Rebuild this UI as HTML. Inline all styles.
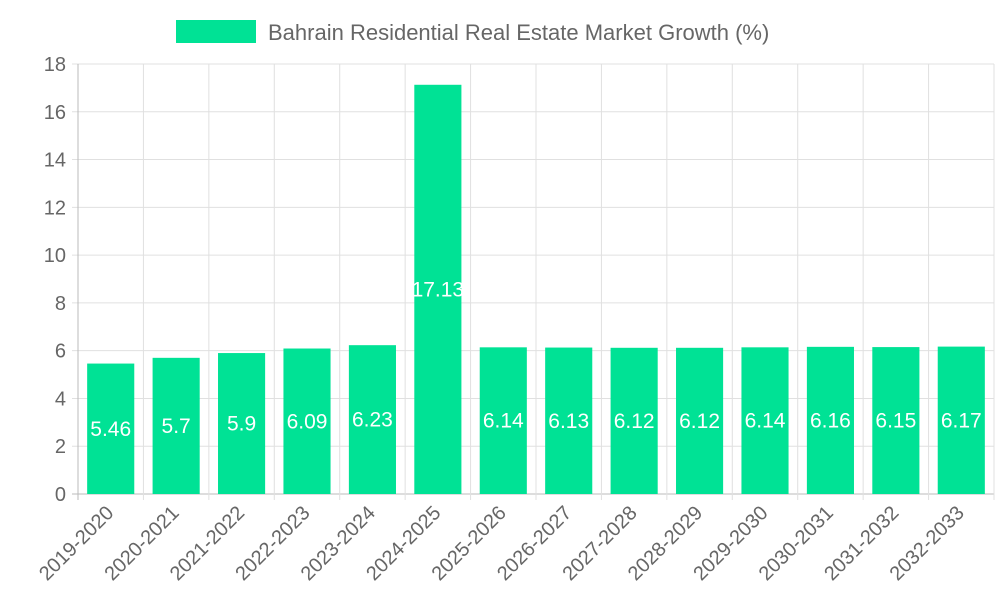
<!DOCTYPE html>
<html><head><meta charset="utf-8"><style>
body{margin:0;background:#fff;width:1000px;height:600px;overflow:hidden}
text{font-family:"Liberation Sans",sans-serif}
</style></head><body>
<svg id="chart" width="1000" height="600" xmlns="http://www.w3.org/2000/svg">
<g>
<rect x="176" y="20" width="80" height="23" fill="#00e295"/>
<text x="268" y="40" font-size="22" fill="#666">Bahrain Residential Real Estate Market Growth (%)</text>
</g>
<g id="grid"></g>
<g id="bars"></g>
<g id="axes"></g>
</svg>
<script>
const categories=["2019-2020","2020-2021","2021-2022","2022-2023","2023-2024","2024-2025","2025-2026","2026-2027","2027-2028","2028-2029","2029-2030","2030-2031","2031-2032","2032-2033"];
const values=[5.46,5.7,5.9,6.09,6.23,17.13,6.14,6.13,6.12,6.12,6.14,6.16,6.15,6.17];
const yTicks=[0,2,4,6,8,10,12,14,16,18];
const X0=78,X1=994,Y0=494,Y1=64,YMAX=18;
const step=(X1-X0)/categories.length;
const y=v=>Y0-(v/YMAX)*(Y0-Y1);
const xc=i=>X0+step*(i+0.5);
const NS="http://www.w3.org/2000/svg";
function mk(tag,attrs,parent){const e=document.createElementNS(NS,tag);for(const k in attrs)e.setAttribute(k,attrs[k]);parent.appendChild(e);return e;}
const grid=document.getElementById('grid'),bars=document.getElementById('bars'),axes=document.getElementById('axes');
yTicks.forEach(t=>{
 const l=mk('line',{x1:X0-6,x2:X1,y1:y(t),y2:y(t),stroke:t===0?'#bbb':'#e0e0e0','stroke-width':1},grid);
 
 
 const tx=mk('text',{x:X0-12,y:y(t)+7,'text-anchor':'end','font-size':20,fill:'#666'},axes);
 tx.textContent=t;
 
 
});
for(let i=0;i<=categories.length;i++){
 const gx=X0+step*i;
 const l=mk('line',{x1:gx,x2:gx,y1:Y1,y2:Y0+6,stroke:i===0?'#bbb':'#e0e0e0','stroke-width':1},grid);
 
 
}
const bw=step*0.72;
values.forEach((v,i)=>{
 const r=mk('rect',{x:xc(i)-bw/2,y:y(v),width:bw,height:Y0-y(v),fill:'#00e295'},bars);
 
 
 const t=mk('text',{x:xc(i),y:(y(v)+Y0)/2+7,'text-anchor':'middle','font-size':21,fill:'#fff'},bars);
 t.textContent=v;
 
 
 const lx=xc(i)+4,ly=Y0+20;
 const c=mk('text',{x:lx,y:ly,'text-anchor':'end','font-size':20,fill:'#666',transform:`rotate(-45 ${lx} ${ly})`},axes);
 c.textContent=categories[i];
 
 
});
</script>
</body></html>
